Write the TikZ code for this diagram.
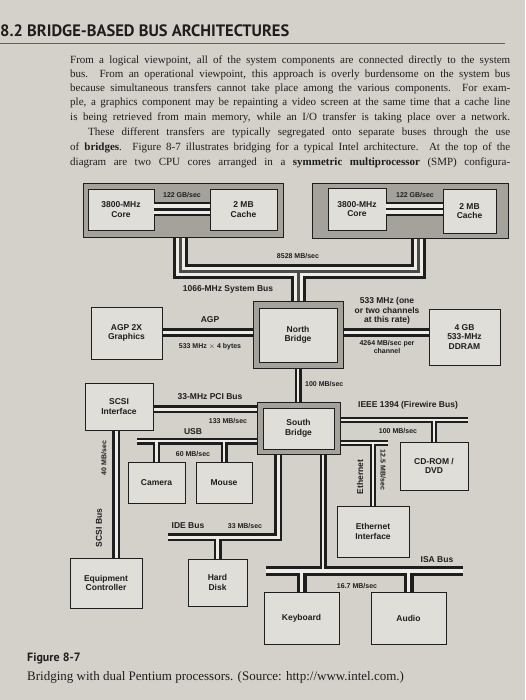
\documentclass[tikz,border=0pt]{standalone}
\usepackage{fontspec}
\setmainfont{Liberation Serif}
\newfontfamily\labfont{Liberation Sans}
\newfontfamily\headfont{PT Sans}
\definecolor{page}{RGB}{212,209,202}
\definecolor{boxlight}{RGB}{224,222,216}
\definecolor{pkg}{RGB}{165,162,156}
\definecolor{ink}{RGB}{30,30,30}
\definecolor{busw}{RGB}{238,236,231}
\pgfdeclarelayer{bg}
\pgfdeclarelayer{bus}
\pgfsetlayers{bg,bus,main}
\tikzset{
  dev/.style={draw=ink, line width=0.8pt, fill=boxlight, inner sep=0pt, align=center,
    font=\labfont\bfseries\fontsize{8.5}{9.5}\selectfont, text=ink},
  pkgbox/.style={draw=ink, line width=0.7pt, fill=pkg, inner sep=0pt},
  lbl/.style={font=\labfont\bfseries\fontsize{8.5}{9.5}\selectfont, text=ink, inner sep=0pt, align=center},
  sm/.style={font=\labfont\bfseries\fontsize{7}{8}\selectfont, text=ink, inner sep=0pt, align=center},
  para/.style={anchor=west, inner sep=0pt, font=\fontsize{11}{13}\selectfont, text=ink},
}
\newcommand\bus[3]{\draw[line width=#1, draw=ink] #3; \draw[line width=#2, draw=busw] #3;}
\begin{document}
\begin{tikzpicture}[x=1pt,y=-1pt]
\useasboundingbox (0,0) rectangle (525,700);
\begin{pgfonlayer}{bg}
\fill[page] (0,0) rectangle (525,700);
\end{pgfonlayer}

% heading and text
\node[anchor=west, inner sep=0pt, font=\headfont\bfseries\fontsize{16.5}{18}\selectfont, text=ink] (head) at (0,31) {8.2 BRIDGE-BASED BUS ARCHITECTURES};
\draw[ink!70, line width=0.6pt] (0,43) -- (505,43);
\node[para] (l1) at (70,61) {\makebox[440pt][s]{From a logical viewpoint, all of the system components are connected directly to the system}};
\node[para] (l2) at (70,75) {\makebox[440pt][s]{bus. From an operational viewpoint, this approach is overly burdensome on the system bus}};
\node[para] (l3) at (70,89) {\makebox[440pt][s]{because simultaneous transfers cannot take place among the various components. For exam-}};
\node[para] (l4) at (70,103) {\makebox[440pt][s]{ple, a graphics component may be repainting a video screen at the same time that a cache line}};
\node[para] (l5) at (70,118) {\makebox[440pt][s]{is being retrieved from main memory, while an I/O transfer is taking place over a network.}};
\node[para] (l6) at (70,133) {\makebox[440pt][s]{\hspace*{18pt}These different transfers are typically segregated onto separate buses through the use}};
\node[para] (l7) at (70,148) {\makebox[440pt][s]{of \textbf{bridges}. Figure 8-7 illustrates bridging for a typical Intel architecture. At the top of the}};
\node[para] (l8) at (70,163) {\makebox[440pt][s]{diagram are two CPU cores arranged in a \textbf{symmetric multiprocessor} (SMP) configura-}};

% CPU packages
\node[pkgbox, minimum width=200pt, minimum height=54pt] (pkgL) at (183,210) {};
\node[dev, minimum width=66pt, minimum height=41pt] (coreL) at (121,209.5) {3800-MHz\\Core};
\node[dev, minimum width=67pt, minimum height=41pt] (cacheL) at (243.5,209.5) {2 MB\\Cache};
\node[pkgbox, minimum width=196pt, minimum height=55pt] (pkgR) at (410,211) {};
\node[dev, minimum width=58pt, minimum height=42pt] (coreR) at (357,209) {3800-MHz\\Core};
\node[dev, minimum width=53pt, minimum height=44pt] (cacheR) at (469.5,211) {2 MB\\Cache};
\foreach \a/\b in {coreL/cacheL, coreR/cacheR}{
  \draw[line width=14pt, ink] (\a.east) -- (\a.east -| \b.west);
  \draw[line width=10pt, busw] (\a.east) -- (\a.east -| \b.west);
  \draw[line width=2.5pt, ink] (\a.east) -- (\a.east -| \b.west);
}
\node[sm] (gbL) at (182,195) {122 GB/sec};
\node[sm] (gbR) at (415,195) {122 GB/sec};

% bridges and devices
\node[pkgbox, minimum width=90pt, minimum height=67pt] (nbo) at (298,334.5) {};
\node[dev, line width=0.6pt, minimum width=78pt, minimum height=54pt] (nb) at (298,335) {North\\Bridge};
\node[dev, minimum width=71pt, minimum height=52pt] (agp) at (126.5,333) {AGP 2X\\Graphics};
\node[dev, minimum width=71pt, minimum height=56pt] (ddr) at (464.5,337) {4 GB\\533-MHz\\DDRAM};
\node[pkgbox, minimum width=83pt, minimum height=52pt] (sbo) at (298.5,428) {};
\node[dev, line width=0.6pt, minimum width=71pt, minimum height=41pt] (sb) at (298.5,428.5) {South\\Bridge};
\node[dev, minimum width=68pt, minimum height=47pt] (scsi) at (119,406.5) {SCSI\\Interface};
\node[dev, minimum width=57pt, minimum height=41pt] (cam) at (156.5,482.5) {Camera};
\node[dev, minimum width=56pt, minimum height=41pt] (mouse) at (224,482.5) {Mouse};
\node[dev, minimum width=72pt, minimum height=50pt] (equip) at (106,583) {Equipment\\Controller};
\node[dev, minimum width=59pt, minimum height=47pt] (hd) at (217.5,582.5) {Hard\\Disk};
\node[dev, minimum width=75pt, minimum height=52pt] (kbd) at (301.5,618) {Keyboard};
\node[dev, minimum width=75pt, minimum height=52pt] (audio) at (408.5,618) {Audio};
\node[dev, minimum width=68pt, minimum height=48pt] (cd) at (434,466) {CD-ROM /\\DVD};
\node[dev, minimum width=72pt, minimum height=51pt] (eth) at (373,531.5) {Ethernet\\Interface};

\coordinate (ubend) at (180,271);
\coordinate (usbend) at (137,441);
\coordinate (ideend) at (168,537);
\coordinate (isaL) at (266,571);
\coordinate (isaR) at (463,571);
\coordinate (fwend) at (468,420);
\coordinate (ethend) at (388,443);

\begin{pgfonlayer}{bus}
% system bus
\draw[line width=15pt, ink] (pkgL.south -| ubend) |- (418,271) -- (pkgR.south -| 418,0) (ubend -| nbo.north) -- (nbo.north);
\draw[line width=9pt, busw] (pkgL.south -| ubend) |- (418,271) -- (pkgR.south -| 418,0) (ubend -| nbo.north) -- (nbo.north);
\draw[line width=3pt, ink!80] (pkgL.south -| ubend) |- (418,271) -- (pkgR.south -| 418,0) (ubend -| nbo.north) -- (nbo.north);
% AGP and memory
\bus{9pt}{3pt}{(agp.east |- 0,332) -- (nbo.west |- 0,332)}
\bus{9pt}{3pt}{(nbo.east |- 0,332) -- (ddr.west |- 0,332)}
% NB - SB
\bus{7pt}{2.5pt}{(nbo.south) -- (sbo.north -| nbo.south)}
% PCI
\bus{8pt}{3pt}{(scsi.east |- 0,409) -- (sbo.west |- 0,409)}
% USB
\bus{7pt}{2.5pt}{(usbend) -- (sbo.west |- usbend) (cam.north |- usbend) -- (cam.north) (mouse.north |- usbend) -- (mouse.north)}
% SCSI bus
\bus{8pt}{3pt}{(scsi.south -| 116,0) -- (equip.north -| 116,0)}
% IDE
\bus{8pt}{3pt}{(sbo.south -| 278,0) |- (ideend) (hd.north |- ideend) -- (hd.north)}
% ISA
\draw[line width=7pt, ink] (sbo.south -| 323,0) -- (isaL -| 323,0);
\draw[line width=10pt, ink] (isaL) -- (isaR) (kbd.north |- isaL) -- (kbd.north) (audio.north |- isaL) -- (audio.north);
\draw[line width=2.5pt, busw] (sbo.south -| 323,0) -- (isaL -| 323,0);
\draw[line width=3.5pt, busw] (isaL) -- (isaR) (kbd.north |- isaL) -- (kbd.north) (audio.north |- isaL) -- (audio.north);
% Firewire
\bus{6pt}{2pt}{(sbo.east |- fwend) -- (fwend) (cd.north |- fwend) -- (cd.north)}
% Ethernet
\bus{6pt}{2pt}{(sbo.east |- ethend) -- (ethend) (eth.north |- ethend) -- (eth.north)}
\end{pgfonlayer}

% labels
\node[sm] (t8528) at (298,256) {8528 MB/sec};
\node[lbl] (tsys) at (228,289) {1066-MHz System Bus};
\node[lbl] (tagp) at (210,320) {AGP};
\node[sm] (tagp2) at (210,347) {533 MHz $\times$ 4 bytes};
\node[lbl] (tmem) at (387,311) {533 MHz (one\\or two channels\\at this rate)};
\node[sm] (tmem2) at (387,347) {4264 MB/sec per\\channel};
\node[sm, anchor=west] (t100) at (305,384) {100 MB/sec};
\node[lbl] (tpci) at (210,397) {33-MHz PCI Bus};
\node[sm] (t133) at (228,421) {133 MB/sec};
\node[lbl] (tusb) at (193,432) {USB};
\node[sm] (t60) at (193,454) {60 MB/sec};
\node[sm, rotate=90] (t40) at (104,458) {40 MB/sec};
\node[lbl, rotate=90] (tscsi) at (99,528) {SCSI Bus};
\node[lbl] (tide) at (188,526) {IDE Bus};
\node[sm] (t33) at (245,526) {33 MB/sec};
\node[lbl] (tisa) at (437,560) {ISA Bus};
\node[sm] (t167) at (357,586) {16.7 MB/sec};
\node[lbl] (tfw) at (408,405) {IEEE 1394 (Firewire Bus)};
\node[sm] (t100b) at (398,431) {100 MB/sec};
\node[lbl, rotate=90] (teth) at (360,477) {Ethernet};
\node[sm, rotate=-90] (t125) at (383,470) {12.5 MB/sec};

% caption
\node[anchor=west, inner sep=0pt, font=\headfont\bfseries\fontsize{12}{13}\selectfont, text=ink] (fig) at (27,658) {Figure 8-7};
\node[anchor=west, inner sep=0pt, font=\fontsize{13}{14}\selectfont, text=ink] (cap) at (27,677) {Bridging with dual Pentium processors. (Source: http://www.intel.com.)};
\end{tikzpicture}
\end{document}
